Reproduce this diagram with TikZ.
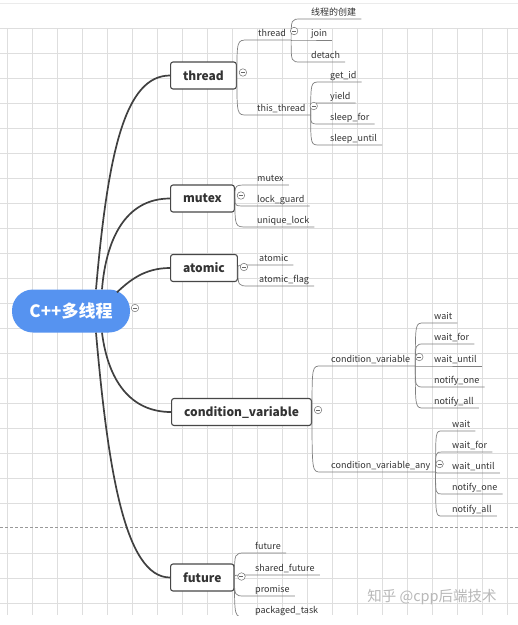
\documentclass[tikz,border=0pt]{standalone}
\usepackage{fontspec}
\setmainfont{Noto Sans CJK SC}
\usepackage{xcolor}
\usepackage{tikz}
\usetikzlibrary{positioning}
\definecolor{rootblue}{RGB}{86,147,240}
\definecolor{gridgray}{RGB}{222,222,222}

\begin{document}
\begin{tikzpicture}[x=1pt, y=-1pt,
            root/.style={rectangle, rounded corners=21pt, fill=rootblue, text=white,
                 font=\fontsize{17}{20}\selectfont\bfseries, minimum width=118pt, minimum height=43pt},
            topic/.style={draw=black!72, line width=1.1pt, rounded corners=2.5pt, fill=white, text=black!80,
                 font=\fontsize{12}{15}\selectfont\bfseries, minimum height=27pt, inner xsep=12.5pt, anchor=west},
            leaf/.style={anchor=south west, text=black!80, font=\fontsize{9}{11}\selectfont,
                 text height=7pt, text depth=2pt, inner ysep=1.5pt, inner xsep=5pt,
                 execute at begin node=\hspace*{5pt}},
            trunk/.style={draw=black!75, line width=1.7pt},
            twig/.style={draw=black!50, line width=0.7pt,
                 to path={.. controls (\tikztostart |- \tikztotarget) .. (\tikztotarget)}},
            fold/.style={circle, draw=black!55, fill=white, line width=0.5pt, inner sep=0pt, minimum size=7.5pt,
                 path picture={\draw[black!60, line width=0.5pt] ([xshift=-2pt]path picture bounding box.center)
                 -- ([xshift=2pt]path picture bounding box.center);}},
            gridline/.style={draw=gridgray, line width=0.7pt}
            ]
            \useasboundingbox (0,0) rectangle (518,625);
            \fill[white] (0,0) rectangle (518,625);

            \begin{scope}
            \clip (0,0) rectangle (518,615);

            % background grid and page break
            \draw[gridline, draw=gridgray!60] (0,3) -- (518,3);
            \foreach \x in {7,32,...,507} \draw[gridline] (\x,28) -- (\x,615);
            \foreach \y in {28,53,...,503} \draw[gridline] (0,\y) -- (518,\y);
            \foreach \y in {553,578,603} \draw[gridline] (0,\y) -- (518,\y);
            \draw[black!40, dash pattern=on 3pt off 2pt] (0,527) -- (518,527);

            % Nodes with manual coordinates
            \node[root] (root) at (71,311) {C++多线程};
            \node[topic] (thread) at (170,75.5) {thread};
            \node[topic] (mutex) at (170,198.5) {mutex};
            \node[topic] (atomic) at (170,268) {atomic};
            \node[topic] (cv) at (171,412) {condition\_variable};
            \node[topic] (future) at (170,577.5) {future};

            \node[leaf] (thr) at (248,40) {thread};
            \node[leaf] (thi) at (247,115) {this\_thread};
            \node[leaf] (cvs) at (321,366) {condition\_variable};
            \node[leaf] (cva) at (321,472) {condition\_variable\_any};

            \foreach \n/\t/\y in {create/线程的创建/19, join/join/40, detach/detach/62}
                \node[leaf] (\n) at (301,\y) {\t};
            \foreach \n/\t/\y in {getid/get\_id/82, yield/yield/103, sleepfor/sleep\_for/124, sleepuntil/sleep\_until/145}
                \node[leaf] (\n) at (320,\y) {\t};
            \foreach \n/\t/\y in {mtx/mutex/185, lockguard/lock\_guard/206, uniquelock/unique\_lock/227}
                \node[leaf] (\n) at (247,\y) {\t};
            \foreach \n/\t/\y in {atm/atomic/265, atmflag/atomic\_flag/286}
                \node[leaf] (\n) at (249,\y) {\t};
            \foreach \n/\t/\y in {wait/wait/323, waitfor/wait\_for/344, waituntil/wait\_until/366,
                                 notifyone/notify\_one/387, notifyall/notify\_all/408}
                \node[leaf] (cvs-\n) at (424,\y) {\t};
            \foreach \n/\t/\y in {wait/wait/431, waitfor/wait\_for/452, waituntil/wait\_until/473,
                                 notifyone/notify\_one/494, notifyall/notify\_all/516}
                \node[leaf] (cva-\n) at (442,\y) {\t};
            \foreach \n/\t/\y in {fut/future/553, sfut/shared\_future/575, prom/promise/596, ptask/packaged\_task/617}
                \node[leaf] (\n) at (245,\y) {\t};

            \node[text=black!28, font=\fontsize{14.5}{16}\selectfont] (mark) at (432,597) {知乎 @cpp后端技术};

            % Arrows
            \draw[trunk] ([xshift=25pt]root.north) .. controls (108,152) and (125,75.5) .. (thread.west);
            \draw[trunk] ([xshift=31pt]root.north) .. controls (106,240) and (125,198.5) .. (mutex.west);
            \draw[trunk] ([xshift=46pt,yshift=-3pt]root.north) .. controls (130,280) and (145,268) .. (atomic.west);
            \draw[trunk] ([xshift=31pt]root.south) .. controls (108,380) and (130,412) .. (cv.west);
            \draw[trunk] ([xshift=25pt]root.south) .. controls (108,470) and (125,577.5) .. (future.west);

            \foreach \n in {thr,thi} \draw[twig] (thread.east) to (\n.south west) -- (\n.south east);
            \foreach \n in {create,join,detach} \draw[twig] (thr.south east) to (\n.south west) -- (\n.south east);
            \foreach \n in {getid,yield,sleepfor,sleepuntil} \draw[twig] (thi.south east) to (\n.south west) -- (\n.south east);
            \foreach \n in {mtx,lockguard,uniquelock} \draw[twig] (mutex.east) to (\n.south west) -- (\n.south east);
            \foreach \n in {atm,atmflag} \draw[twig] (atomic.east) to (\n.south west) -- (\n.south east);
            \foreach \n in {cvs,cva} \draw[twig] (cv.east) to (\n.south west) -- (\n.south east);
            \foreach \n in {wait,waitfor,waituntil,notifyone,notifyall} {
                \draw[twig] (cvs.south east) to (cvs-\n.south west) -- (cvs-\n.south east);
                \draw[twig] (cva.south east) to (cva-\n.south west) -- (cva-\n.south east);
            }
            \foreach \n in {fut,sfut,prom,ptask} \draw[twig] (future.east) to (\n.south west) -- (\n.south east);

            % fold markers
            \node[fold] (root-fold) at (135,308) {};
            \node[fold] (thread-fold) at ([xshift=6pt,yshift=3pt]thread.east) {};
            \node[fold] (mutex-fold) at ([xshift=6pt,yshift=3pt]mutex.east) {};
            \node[fold] (atomic-fold) at ([xshift=6pt,yshift=1pt]atomic.east) {};
            \node[fold] (cv-fold) at ([xshift=6pt,yshift=2pt]cv.east) {};
            \node[fold] (future-fold) at ([xshift=7pt,yshift=1pt]future.east) {};
            \node[fold] (thr-fold) at ([xshift=3pt,yshift=9pt]thr.south east) {};
            \node[fold] (thi-fold) at ([xshift=3pt,yshift=9pt]thi.south east) {};
            \node[fold] (cvs-fold) at ([xshift=4pt,yshift=9pt]cvs.south east) {};
            \node[fold] (cva-fold) at ([xshift=4pt,yshift=8pt]cva.south east) {};
            \end{scope}
        \end{tikzpicture}
\end{document}
